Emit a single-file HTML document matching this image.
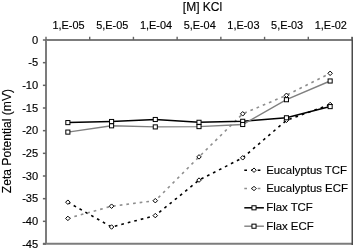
<!DOCTYPE html><html><head><meta charset="utf-8"><style>html,body{margin:0;padding:0;background:#fff;}svg{display:block;}</style></head><body>
<svg width="353" height="250" viewBox="0 0 353 250">
<rect width="353" height="250" fill="#fff"/>
<line x1="46.0" y1="40.0" x2="352.0" y2="40.0" stroke="#7c7c7c" stroke-width="2"/>
<line x1="46.0" y1="40.0" x2="46.0" y2="244.0" stroke="#7c7c7c" stroke-width="2"/>
<line x1="42.9" y1="243.8" x2="352.0" y2="243.8" stroke="#7c7c7c" stroke-width="2"/>
<rect x="351.5" y="37.0" width="1.5" height="208.0" fill="#4a4a4a"/>
<line x1="46.00" y1="36.8" x2="46.00" y2="40.0" stroke="#646464" stroke-width="1.4"/>
<line x1="89.71" y1="36.8" x2="89.71" y2="40.0" stroke="#646464" stroke-width="1.4"/>
<line x1="133.43" y1="36.8" x2="133.43" y2="40.0" stroke="#646464" stroke-width="1.4"/>
<line x1="177.14" y1="36.8" x2="177.14" y2="40.0" stroke="#646464" stroke-width="1.4"/>
<line x1="220.86" y1="36.8" x2="220.86" y2="40.0" stroke="#646464" stroke-width="1.4"/>
<line x1="264.57" y1="36.8" x2="264.57" y2="40.0" stroke="#646464" stroke-width="1.4"/>
<line x1="308.29" y1="36.8" x2="308.29" y2="40.0" stroke="#646464" stroke-width="1.4"/>
<line x1="352.00" y1="36.8" x2="352.00" y2="40.0" stroke="#646464" stroke-width="1.4"/>
<line x1="42.9" y1="40.00" x2="46.0" y2="40.00" stroke="#646464" stroke-width="1.5"/>
<line x1="42.9" y1="62.67" x2="46.0" y2="62.67" stroke="#646464" stroke-width="1.5"/>
<line x1="42.9" y1="85.33" x2="46.0" y2="85.33" stroke="#646464" stroke-width="1.5"/>
<line x1="42.9" y1="108.00" x2="46.0" y2="108.00" stroke="#646464" stroke-width="1.5"/>
<line x1="42.9" y1="130.67" x2="46.0" y2="130.67" stroke="#646464" stroke-width="1.5"/>
<line x1="42.9" y1="153.33" x2="46.0" y2="153.33" stroke="#646464" stroke-width="1.5"/>
<line x1="42.9" y1="176.00" x2="46.0" y2="176.00" stroke="#646464" stroke-width="1.5"/>
<line x1="42.9" y1="198.67" x2="46.0" y2="198.67" stroke="#646464" stroke-width="1.5"/>
<line x1="42.9" y1="221.33" x2="46.0" y2="221.33" stroke="#646464" stroke-width="1.5"/>
<line x1="42.9" y1="244.00" x2="46.0" y2="244.00" stroke="#646464" stroke-width="1.5"/>
<text x="38.2" y="43.70" text-anchor="end" font-size="11.1" font-family="Liberation Sans, Arial, sans-serif" fill="#000" stroke="#000" stroke-width="0.15">0</text>
<text x="38.2" y="66.37" text-anchor="end" font-size="11.1" font-family="Liberation Sans, Arial, sans-serif" fill="#000" stroke="#000" stroke-width="0.15">-5</text>
<text x="38.2" y="89.03" text-anchor="end" font-size="11.1" font-family="Liberation Sans, Arial, sans-serif" fill="#000" stroke="#000" stroke-width="0.15">-10</text>
<text x="38.2" y="111.70" text-anchor="end" font-size="11.1" font-family="Liberation Sans, Arial, sans-serif" fill="#000" stroke="#000" stroke-width="0.15">-15</text>
<text x="38.2" y="134.37" text-anchor="end" font-size="11.1" font-family="Liberation Sans, Arial, sans-serif" fill="#000" stroke="#000" stroke-width="0.15">-20</text>
<text x="38.2" y="157.03" text-anchor="end" font-size="11.1" font-family="Liberation Sans, Arial, sans-serif" fill="#000" stroke="#000" stroke-width="0.15">-25</text>
<text x="38.2" y="179.70" text-anchor="end" font-size="11.1" font-family="Liberation Sans, Arial, sans-serif" fill="#000" stroke="#000" stroke-width="0.15">-30</text>
<text x="38.2" y="202.37" text-anchor="end" font-size="11.1" font-family="Liberation Sans, Arial, sans-serif" fill="#000" stroke="#000" stroke-width="0.15">-35</text>
<text x="38.2" y="225.03" text-anchor="end" font-size="11.1" font-family="Liberation Sans, Arial, sans-serif" fill="#000" stroke="#000" stroke-width="0.15">-40</text>
<text x="38.2" y="247.70" text-anchor="end" font-size="11.1" font-family="Liberation Sans, Arial, sans-serif" fill="#000" stroke="#000" stroke-width="0.15">-45</text>
<text x="68.56" y="28.5" text-anchor="middle" font-size="10.9" font-family="Liberation Sans, Arial, sans-serif" fill="#000" stroke="#000" stroke-width="0.15">1,E-05</text>
<text x="112.27" y="28.5" text-anchor="middle" font-size="10.9" font-family="Liberation Sans, Arial, sans-serif" fill="#000" stroke="#000" stroke-width="0.15">5,E-05</text>
<text x="155.99" y="28.5" text-anchor="middle" font-size="10.9" font-family="Liberation Sans, Arial, sans-serif" fill="#000" stroke="#000" stroke-width="0.15">1,E-04</text>
<text x="199.70" y="28.5" text-anchor="middle" font-size="10.9" font-family="Liberation Sans, Arial, sans-serif" fill="#000" stroke="#000" stroke-width="0.15">5,E-04</text>
<text x="243.41" y="28.5" text-anchor="middle" font-size="10.9" font-family="Liberation Sans, Arial, sans-serif" fill="#000" stroke="#000" stroke-width="0.15">1,E-03</text>
<text x="287.13" y="28.5" text-anchor="middle" font-size="10.9" font-family="Liberation Sans, Arial, sans-serif" fill="#000" stroke="#000" stroke-width="0.15">5,E-03</text>
<text x="330.84" y="28.5" text-anchor="middle" font-size="10.9" font-family="Liberation Sans, Arial, sans-serif" fill="#000" stroke="#000" stroke-width="0.15">1,E-02</text>
<text x="202.5" y="10.6" text-anchor="middle" font-size="12" font-family="Liberation Sans, Arial, sans-serif" fill="#000" stroke="#000" stroke-width="0.15">[M] KCl</text>
<text transform="translate(10.8,141.1) rotate(-90)" x="0" y="0" text-anchor="middle" font-size="12.1" font-family="Liberation Sans, Arial, sans-serif" fill="#000" stroke="#000" stroke-width="0.15">Zeta Potential (mV)</text>
<polyline points="67.86,202.20 111.57,227.00 155.29,215.60 199.00,180.10 242.71,157.80 286.43,120.30 330.14,104.50" fill="none" stroke="#000" stroke-width="1.6" stroke-dasharray="2.7 4"/>
<path d="M67.86,199.95 L70.11,202.20 L67.86,204.45 L65.61,202.20 Z" fill="#fff" stroke="#000" stroke-width="1.0"/>
<path d="M111.57,224.75 L113.82,227.00 L111.57,229.25 L109.32,227.00 Z" fill="#fff" stroke="#000" stroke-width="1.0"/>
<path d="M155.29,213.35 L157.54,215.60 L155.29,217.85 L153.04,215.60 Z" fill="#fff" stroke="#000" stroke-width="1.0"/>
<path d="M199.00,177.85 L201.25,180.10 L199.00,182.35 L196.75,180.10 Z" fill="#fff" stroke="#000" stroke-width="1.0"/>
<path d="M242.71,155.55 L244.96,157.80 L242.71,160.05 L240.46,157.80 Z" fill="#fff" stroke="#000" stroke-width="1.0"/>
<path d="M286.43,118.05 L288.68,120.30 L286.43,122.55 L284.18,120.30 Z" fill="#fff" stroke="#000" stroke-width="1.0"/>
<path d="M330.14,102.25 L332.39,104.50 L330.14,106.75 L327.89,104.50 Z" fill="#fff" stroke="#000" stroke-width="1.0"/>
<polyline points="67.86,218.40 111.57,206.20 155.29,200.70 199.00,156.90 242.71,113.80 286.43,95.30 330.14,73.30" fill="none" stroke="#8f8f8f" stroke-width="1.6" stroke-dasharray="2.7 4"/>
<path d="M67.86,216.15 L70.11,218.40 L67.86,220.65 L65.61,218.40 Z" fill="#fff" stroke="#000" stroke-width="1.0"/>
<path d="M111.57,203.95 L113.82,206.20 L111.57,208.45 L109.32,206.20 Z" fill="#fff" stroke="#000" stroke-width="1.0"/>
<path d="M155.29,198.45 L157.54,200.70 L155.29,202.95 L153.04,200.70 Z" fill="#fff" stroke="#000" stroke-width="1.0"/>
<path d="M199.00,154.65 L201.25,156.90 L199.00,159.15 L196.75,156.90 Z" fill="#fff" stroke="#000" stroke-width="1.0"/>
<path d="M242.71,111.55 L244.96,113.80 L242.71,116.05 L240.46,113.80 Z" fill="#fff" stroke="#000" stroke-width="1.0"/>
<path d="M286.43,93.05 L288.68,95.30 L286.43,97.55 L284.18,95.30 Z" fill="#fff" stroke="#000" stroke-width="1.0"/>
<path d="M330.14,71.05 L332.39,73.30 L330.14,75.55 L327.89,73.30 Z" fill="#fff" stroke="#000" stroke-width="1.0"/>
<polyline points="67.86,122.60 111.57,121.50 155.29,119.50 199.00,122.30 242.71,121.30 286.43,117.80 330.14,106.60" fill="none" stroke="#000" stroke-width="1.5"/>
<rect x="65.81" y="120.55" width="4.1" height="4.1" fill="#fff" stroke="#000" stroke-width="1.0"/>
<rect x="109.52" y="119.45" width="4.1" height="4.1" fill="#fff" stroke="#000" stroke-width="1.0"/>
<rect x="153.24" y="117.45" width="4.1" height="4.1" fill="#fff" stroke="#000" stroke-width="1.0"/>
<rect x="196.95" y="120.25" width="4.1" height="4.1" fill="#fff" stroke="#000" stroke-width="1.0"/>
<rect x="240.66" y="119.25" width="4.1" height="4.1" fill="#fff" stroke="#000" stroke-width="1.0"/>
<rect x="284.38" y="115.75" width="4.1" height="4.1" fill="#fff" stroke="#000" stroke-width="1.0"/>
<rect x="328.09" y="104.55" width="4.1" height="4.1" fill="#fff" stroke="#000" stroke-width="1.0"/>
<polyline points="67.86,132.10 111.57,125.80 155.29,126.90 199.00,126.60 242.71,124.50 286.43,99.70 330.14,81.00" fill="none" stroke="#808080" stroke-width="1.4"/>
<rect x="65.81" y="130.05" width="4.1" height="4.1" fill="#fff" stroke="#000" stroke-width="1.0"/>
<rect x="109.52" y="123.75" width="4.1" height="4.1" fill="#fff" stroke="#000" stroke-width="1.0"/>
<rect x="153.24" y="124.85" width="4.1" height="4.1" fill="#fff" stroke="#000" stroke-width="1.0"/>
<rect x="196.95" y="124.55" width="4.1" height="4.1" fill="#fff" stroke="#000" stroke-width="1.0"/>
<rect x="240.66" y="122.45" width="4.1" height="4.1" fill="#fff" stroke="#000" stroke-width="1.0"/>
<rect x="284.38" y="97.65" width="4.1" height="4.1" fill="#fff" stroke="#000" stroke-width="1.0"/>
<rect x="328.09" y="78.95" width="4.1" height="4.1" fill="#fff" stroke="#000" stroke-width="1.0"/>
<line x1="244.3" y1="170.2" x2="263.9" y2="170.2" stroke="#000" stroke-width="1.6" stroke-dasharray="2.7 4"/>
<path d="M254.00,167.95 L256.25,170.20 L254.00,172.45 L251.75,170.20 Z" fill="#fff" stroke="#000" stroke-width="1.0"/>
<text x="266.2" y="173.70" font-size="11.4" font-family="Liberation Sans, Arial, sans-serif" fill="#000" stroke="#000" stroke-width="0.15">Eucalyptus TCF</text>
<line x1="244.3" y1="188.5" x2="263.9" y2="188.5" stroke="#8f8f8f" stroke-width="1.6" stroke-dasharray="2.7 4"/>
<path d="M254.00,186.25 L256.25,188.50 L254.00,190.75 L251.75,188.50 Z" fill="#fff" stroke="#000" stroke-width="1.0"/>
<text x="266.2" y="192.00" font-size="11.4" font-family="Liberation Sans, Arial, sans-serif" fill="#000" stroke="#000" stroke-width="0.15">Eucalyptus ECF</text>
<line x1="244.3" y1="207.8" x2="263.9" y2="207.8" stroke="#000" stroke-width="1.5"/>
<rect x="251.95" y="205.75" width="4.1" height="4.1" fill="#fff" stroke="#000" stroke-width="1.0"/>
<text x="266.2" y="211.30" font-size="11.4" font-family="Liberation Sans, Arial, sans-serif" fill="#000" stroke="#000" stroke-width="0.15">Flax TCF</text>
<line x1="244.3" y1="226.2" x2="263.9" y2="226.2" stroke="#808080" stroke-width="1.4"/>
<rect x="251.95" y="224.15" width="4.1" height="4.1" fill="#fff" stroke="#000" stroke-width="1.0"/>
<text x="266.2" y="229.70" font-size="11.4" font-family="Liberation Sans, Arial, sans-serif" fill="#000" stroke="#000" stroke-width="0.15">Flax ECF</text>
</svg></body></html>
